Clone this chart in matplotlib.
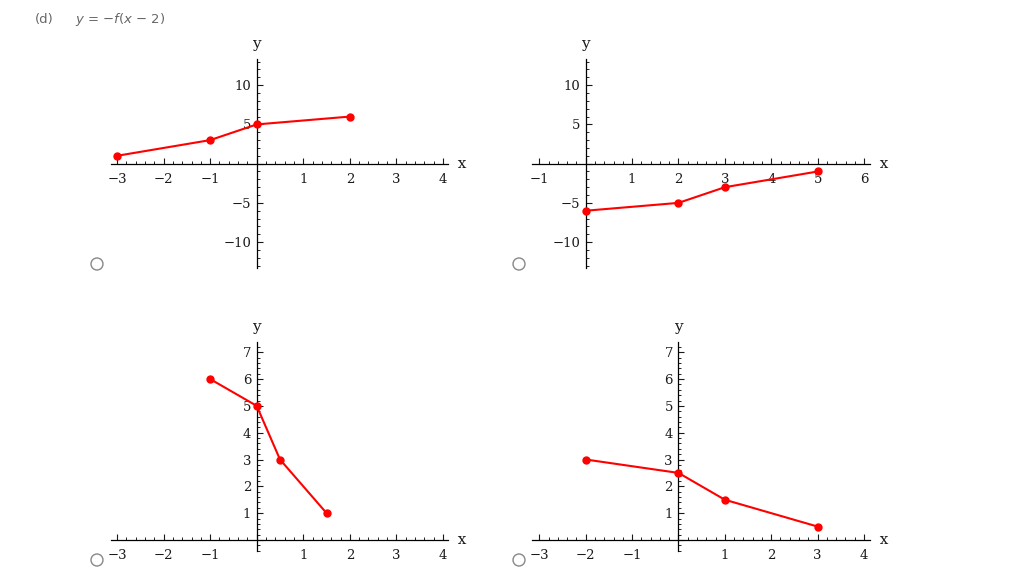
import matplotlib
matplotlib.use("Agg")
import matplotlib.pyplot as plt
from matplotlib.ticker import MultipleLocator, FuncFormatter
from matplotlib.patches import Circle

# data for the four answer choices
x_a = [-3, -1, 0, 2]
y_a = [1, 3, 5, 6]
x_b = [0, 2, 3, 5]
y_b = [-6, -5, -3, -1]
x_c = [-1, 0, 0.5, 1.5]
y_c = [6, 5, 3, 1]
x_d = [-2, 0, 1, 3]
y_d = [3, 2.5, 1.5, 0.5]

W, H = 1021, 581
fig = plt.figure(figsize=(W / 100, H / 100), dpi=100)


def lab(v, pos):
    if abs(v) < 1e-9:
        return ""
    s = "%g" % abs(v)
    return ("\u2212" + s) if v < 0 else s


def panel(px, xs, ys, xlim, ylim, ymaj, ymin):
    # px = (left, top, right, bottom) in pixels
    l, t, r, b = px
    ax = fig.add_axes([l / W, 1 - b / H, (r - l) / W, (b - t) / H])
    ax.plot(xs, ys, color="#ff0000", lw=1.5, marker="o", ms=5, zorder=3,
            clip_on=False)
    ax.set_xlim(*xlim)
    ax.set_ylim(*ylim)
    for s in ["top", "right"]:
        ax.spines[s].set_visible(False)
    ax.spines["left"].set_position(("data", 0))
    ax.spines["bottom"].set_position(("data", 0))
    for s in ["left", "bottom"]:
        ax.spines[s].set_linewidth(0.9)
    ax.patch.set_alpha(0)
    ax.xaxis.set_major_locator(MultipleLocator(1))
    ax.xaxis.set_minor_locator(MultipleLocator(0.2))
    ax.yaxis.set_major_locator(MultipleLocator(ymaj))
    ax.yaxis.set_minor_locator(MultipleLocator(ymin))
    ax.xaxis.set_major_formatter(FuncFormatter(lab))
    ax.yaxis.set_major_formatter(FuncFormatter(lab))
    ax.tick_params(which="major", direction="in", length=4, width=0.8,
                   labelsize=9.5, colors="#1a1a1a")
    ax.tick_params(axis="x", which="major", pad=6.5)
    ax.tick_params(axis="y", which="major", pad=4)
    ax.tick_params(which="minor", direction="in", length=2.5, width=0.6)
    for t_ in ax.get_xticklabels() + ax.get_yticklabels():
        t_.set_family("DejaVu Serif")
    ax.text(1.0, 0, "  x", transform=ax.get_yaxis_transform(), ha="left",
            va="center", fontsize=11, family="DejaVu Serif", color="#1a1a1a")
    ax.text(0, 1.0, "y\n", transform=ax.get_xaxis_transform(), ha="center",
            va="bottom", fontsize=11, family="DejaVu Serif", color="#1a1a1a",
            linespacing=0.5)
    return ax


panel((110.7, 59.3, 448, 268), x_a, y_a, (-3.135, 4.107), (-13.3, 13.3), 5, 1)
panel((532, 59.3, 870, 268), x_b, y_b, (-1.157, 6.127), (-13.3, 13.3), 5, 1)
panel((110.7, 342.3, 448, 550.7), x_c, y_c, (-3.135, 4.107), (-0.4, 7.37), 1, 0.2)
panel((532, 342.3, 870, 550.7), x_d, y_d, (-3.158, 4.13), (-0.4, 7.37), 1, 0.2)

# radio buttons
for cx, cy in [(97, 264), (519, 264), (97, 560), (519, 560)]:
    fig.add_artist(Circle((cx / 100, (H - cy) / 100), 0.06,
                          transform=fig.dpi_scale_trans, facecolor="white",
                          edgecolor="#888888", lw=1))

plt.rcParams["mathtext.fontset"] = "dejavusans"
fig.text(35 / W, 1 - 20 / H, "(d)", fontsize=9.5, color="#666666",
         va="center", ha="left")
fig.text(75 / W, 1 - 20 / H, "$y$ = \u2212$f$($x$ \u2212 2)",
         fontsize=9.5, color="#666666", va="center", ha="left")

fig.savefig("out.png", dpi=100, facecolor="white")
